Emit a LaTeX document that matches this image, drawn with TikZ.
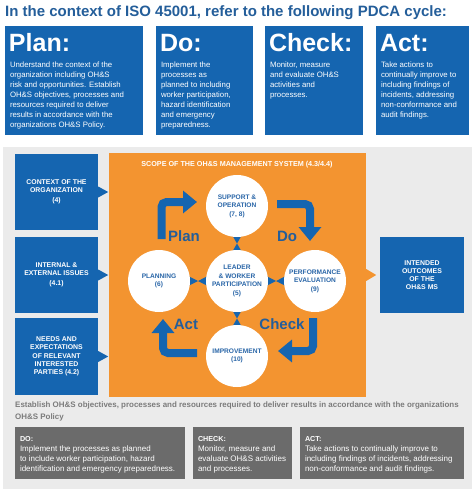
\documentclass[tikz,border=0pt]{standalone}
\usepackage{fontspec}
\setmainfont{Liberation Sans}
\usetikzlibrary{arrows.meta,calc}

\definecolor{isoblue}{HTML}{1565B0}
\definecolor{titleblue}{HTML}{245E9A}
\definecolor{isoorange}{HTML}{F39430}
\definecolor{panelgrey}{HTML}{EBEBEB}
\definecolor{boxgrey}{HTML}{6B6B6B}
\definecolor{textgrey}{HTML}{7B7B7B}
\definecolor{circletext}{HTML}{2A66A8}

\tikzset{
  title/.style={font=\bfseries\fontsize{15}{18}\selectfont, text=titleblue, anchor=base west, inner sep=0pt},
  phasebox/.style={fill=isoblue, minimum height=109pt, inner sep=0pt},
  heading/.style={font=\bfseries\fontsize{25}{28}\selectfont, text=white, anchor=base west, inner sep=0pt},
  phasetext/.style={font=\fontsize{7.8}{10}\selectfont, text=white, align=left, anchor=north west, inner sep=0pt},
  sidebox/.style={fill=isoblue, minimum width=83pt, minimum height=76pt, inner sep=0pt, text=white,
    font=\bfseries\fontsize{6.9}{8.2}\selectfont, align=center},
  stage/.style={circle, fill=white, minimum size=62pt, inner sep=0pt, text=circletext,
    font=\bfseries\fontsize{6.6}{8.6}\selectfont, align=center},
  pdca/.style={draw=isoblue, line width=8pt, rounded corners=5pt, -{Triangle[length=14pt,width=22pt]}},
  pdcalabel/.style={font=\bfseries\fontsize{15}{18}\selectfont, text=titleblue, inner sep=0pt},
  notebox/.style={fill=boxgrey, minimum height=52pt, inner sep=0pt},
  notetext/.style={font=\fontsize{8}{10}\selectfont, text=white, align=left, anchor=north west, inner sep=0pt}
}

\newcommand{\linktie}[2]{%
  \coordinate (tiemid) at ($(#1)!0.5!(#2)$);
  \fill[isoblue] ($(#1)!28pt!12:(#2)$) -- ($(#1)!28pt!-12:(#2)$) -- (tiemid) -- cycle;
  \fill[isoblue] ($(#2)!28pt!12:(#1)$) -- ($(#2)!28pt!-12:(#1)$) -- (tiemid) -- cycle;}

\begin{document}
\begin{tikzpicture}[x=1pt, y=-1pt]
    \useasboundingbox[fill=white] (0,0) rectangle (474,492);
    \node[title] (head) at (5,16.5) {In the context of ISO 45001, refer to the following PDCA cycle:};

    \node[phasebox, minimum width=138pt] (plan) at (74,80.5) {};
    \node[phasebox, minimum width=97pt] (do) at (204.5,80.5) {};
    \node[phasebox, minimum width=98pt] (check) at (314,80.5) {};
    \node[phasebox, minimum width=93pt] (act) at (422.5,80.5) {};
    \node[heading] (planhead) at ([xshift=4pt,yshift=-26pt]plan.north west) {Plan:};
    \node[heading] (dohead) at ([xshift=4pt,yshift=-26pt]do.north west) {Do:};
    \node[heading] (checkhead) at ([xshift=4pt,yshift=-26pt]check.north west) {Check:};
    \node[heading] (acthead) at ([xshift=4pt,yshift=-26pt]act.north west) {Act:};
    \node[phasetext] (plantext) at ([xshift=5pt,yshift=-35.5pt]plan.north west)
      {Understand the context of the\\organization including OH\&S\\risk and opportunities. Establish\\OH\&S objectives, processes and\\resources required to deliver\\results in accordance with the\\organizations OH\&S Policy.};
    \node[phasetext] (dotext) at ([xshift=5pt,yshift=-35.5pt]do.north west)
      {Implement the\\processes as\\planned to including\\worker participation,\\hazard identification\\and emergency\\preparedness.};
    \node[phasetext] (checktext) at ([xshift=5pt,yshift=-35.5pt]check.north west)
      {Monitor, measure\\and evaluate OH\&S\\activities and\\processes.};
    \node[phasetext] (acttext) at ([xshift=5pt,yshift=-35.5pt]act.north west)
      {Take actions to\\continually improve to\\including findings of\\incidents, addressing\\non-conformance and\\audit findings.};

    \fill[panelgrey] (3,147) rectangle (472,489);

    \node[sidebox] (context) at (56.5,192) {CONTEXT OF THE\\ORGANIZATION\\[1.5pt](4)};
    \node[sidebox] (issues) at (56.5,275) {INTERNAL \&\\EXTERNAL ISSUES\\[1.5pt](4.1)};
    \node[sidebox, minimum height=77pt] (parties) at (56.5,356.5) {NEEDS AND\\EXPECTATIONS\\OF RELEVANT\\INTERESTED\\PARTIES (4.2)};
    \foreach \sidename in {context,issues,parties}
      \fill[isoblue] ([yshift=5.5pt]\sidename.east) -- ([xshift=10pt]\sidename.east) -- ([yshift=-5.5pt]\sidename.east) -- cycle;

    \node[fill=isoorange, minimum width=257pt, minimum height=244pt, inner sep=0pt] (mspanel) at (237.5,275) {};
    \node[text=white, font=\bfseries\fontsize{7.2}{8}\selectfont, inner sep=0pt] (scopetitle) at (237,165)
      {SCOPE OF THE OH\&S MANAGEMENT SYSTEM (4.3/4.4)};

    \node[fill=isoblue, minimum width=84pt, minimum height=76pt, inner sep=0pt, text=white,
      font=\bfseries\fontsize{6.9}{8.2}\selectfont, align=center] (outcome) at (422,275)
      {INTENDED\\OUTCOMES\\OF THE\\OH\&S MS};
    \fill[isoorange] ([yshift=6pt]mspanel.east) -- ([xshift=10pt]mspanel.east) -- ([yshift=-6pt]mspanel.east) -- cycle;

    \coordinate (leaderpos) at (237,281);
    \linktie{237,206}{leaderpos}
    \linktie{237,356}{leaderpos}
    \linktie{159,281}{leaderpos}
    \linktie{315,281}{leaderpos}

    \node[stage] (support) at (237,206) {SUPPORT \&\\OPERATION\\(7, 8)};
    \node[stage] (leader) at (leaderpos) {LEADER\\\& WORKER\\PARTICIPATION\\(5)};
    \node[stage] (planning) at (159,281) {PLANNING\\(6)};
    \node[stage] (perform) at (315,281) {PERFORMANCE\\EVALUATION\\(9)};
    \node[stage] (improve) at (237,356) {IMPROVEMENT\\(10)};

    \coordinate (plan0) at (161.5,239);
    \coordinate (plan1) at (197,202);
    \coordinate (do0) at (277,204);
    \coordinate (do1) at (310,241);
    \coordinate (check0) at (313,318);
    \coordinate (check1) at (278,351);
    \coordinate (act0) at (197,353);
    \coordinate (act1) at (163,319);
    \draw[pdca] (plan0) |- (plan1);
    \draw[pdca] (do0) -| (do1);
    \draw[pdca] (check0) |- (check1);
    \draw[pdca] (act0) -| (act1);
    \node[pdcalabel] (planlabel) at (184,236) {Plan};
    \node[pdcalabel] (dolabel) at (287,236) {Do};
    \node[pdcalabel] (actlabel) at (186,324) {Act};
    \node[pdcalabel] (checklabel) at (282,324) {Check};

    \fill[panelgrey] (109,397) rectangle (366,489);

    \node[text=textgrey, font=\bfseries\fontsize{7.95}{12}\selectfont, align=left, anchor=north west, inner sep=0pt] (policy) at (15,402)
      {Establish OH\&S objectives, processes and resources required to deliver results in accordance with the organizations\\OH\&S Policy};

    \node[notebox, minimum width=170pt] (donote) at (100,453) {};
    \node[notebox, minimum width=99pt] (checknote) at (242.5,453) {};
    \node[notebox, minimum width=164pt] (actnote) at (382,453) {};
    \node[notetext] at ([xshift=5pt,yshift=-9pt]donote.north west)
      {\textbf{\fontsize{7.2}{10}\selectfont DO:}\\Implement the processes as planned\\to include worker participation, hazard\\identification and emergency preparedness.};
    \node[notetext] at ([xshift=5pt,yshift=-9pt]checknote.north west)
      {\textbf{\fontsize{7.2}{10}\selectfont CHECK:}\\Monitor, measure and\\evaluate OH\&S activities\\and processes.};
    \node[notetext] at ([xshift=5pt,yshift=-9pt]actnote.north west)
      {\textbf{\fontsize{7.2}{10}\selectfont ACT:}\\Take actions to continually improve to\\including findings of incidents, addressing\\non-conformance and audit findings.};
\end{tikzpicture}
\end{document}
